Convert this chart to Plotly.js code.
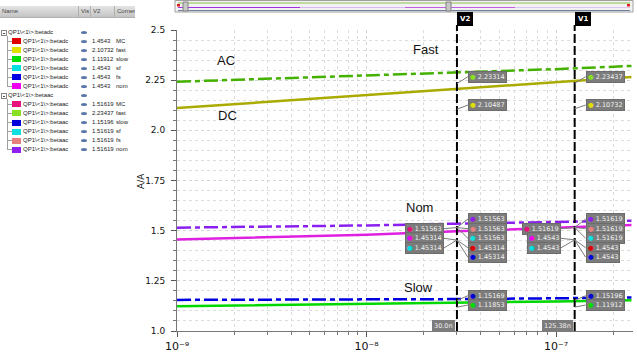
<!DOCTYPE html>
<html><head><meta charset="utf-8">
<script src="https://cdn.plot.ly/plotly-3.0.1.min.js"></script>
<style>
body{margin:0;width:637px;height:356px;overflow:hidden;background:#fff;font-family:"Liberation Sans",Arial,sans-serif;position:relative}
#chart{position:absolute;left:0;top:0;width:637px;height:356px}
#panel{position:absolute;left:0;top:0;width:135px;height:356px;background:#fff;z-index:5;color:#222;overflow:hidden}
#border{position:absolute;left:135px;top:17px;width:1px;height:339px;background:#a8a8a8}
#hdr{position:absolute;left:0;top:6px;width:136px;height:11px;background:linear-gradient(#e4e4e4,#c4c4c4);border-bottom:1px solid #b0b0b0}
#hdr span{position:absolute;top:0;line-height:11px;font-size:6px;color:#444;padding-left:2px;border-left:1px solid #b0b0b0;height:11px}
.row{position:absolute;height:9px;line-height:9px;font-size:6px;white-space:nowrap}
.sw{position:absolute;width:9px;height:6px;top:1.5px}
.eye{position:absolute;width:6px;height:3px;border-radius:50%;background:#5a78a8;top:3px}
.tv{position:absolute;background:#a0a0a0}
.gi{position:absolute;left:1px;top:2px;width:4px;height:4px;border:1px solid #888}
.gi:after{content:"";position:absolute;left:1px;top:2px;width:2px;height:1px;background:#555}
</style>
</head><body>
<div id="chart"></div>
<div id="panel"><div id="hdr"><span style="left:0;border-left:none">Name</span><span style="left:78px">Vis</span><span style="left:90px">V2</span><span style="left:114px">Corner</span></div><div id="border"></div></div>
<script>
// ---------------- data ----------------
const xs     = [1e-9, 3e-9, 1e-8, 3e-8, 1e-7, 2.5e-7];
const fastDC = [2.111, 2.142, 2.176, 2.208, 2.240, 2.266];
const fastAC = [2.242, 2.257, 2.272, 2.288, 2.305, 2.321];
const nomAC  = [1.515, 1.519, 1.526, 1.535, 1.544, 1.550];
const nomDC  = [1.456, 1.466, 1.480, 1.497, 1.515, 1.528];
const slowAC = [1.155, 1.156, 1.157, 1.159, 1.163, 1.167];
const slowDC = [1.123, 1.128, 1.134, 1.140, 1.147, 1.153];

const corners  = ['MC','fast','slow','sf','fs','nom'];
const dcName   = 'QP1\\<1\\>:betadc';
const acName   = 'QP1\\<1\\>:betaac';
const dcColors = ['#e00000','#e0e000','#00dd00','#00e0e0','#0000e0','#f000f0'];
const acColors = ['#e8107a','#88e020','#0000d8','#10e0e0','#e88080','#9020f0'];
const dcAtV2   = [1.45314, 2.10487, 1.11853, 1.45314, 1.45314, 1.45314];
const acAtV2   = [1.51563, 2.23314, 1.15169, 1.51563, 1.51563, 1.51563];
const dcAtV1   = [1.4543, 2.10732, 1.11912, 1.4543, 1.4543, 1.4543];
const acAtV1   = [1.51619, 2.23437, 1.15196, 1.51619, 1.51619, 1.51619];

const cursorX     = [3.0e-8, 1.2538e-7];
const cursorNames = ['V2','V1'];
const cursorText  = ['30.0n','125.38n'];

const yTicks     = [1.0, 1.25, 1.5, 1.75, 2.0, 2.25, 2.5];
const yTickText  = ['1.0','1.25','1.5','1.75','2.0','2.25','2.5'];
const xTicks     = [1e-9, 1e-8, 1e-7];
const xTickText  = ['10\u207B\u2079','10\u207B\u2078','10\u207B\u2077'];

// ---------------- left panel ----------------
const panel = document.getElementById('panel');
const esc = s => s.replace(/</g,'&lt;').replace(/>/g,'&gt;');
function addRow(i, html){ const d=document.createElement('div'); d.className='row'; d.style.top=(32+9.05*i-4.5)+'px'; d.style.left='0'; d.style.width='135px'; d.innerHTML=html; panel.appendChild(d); }
function groupRow(i,name){
  addRow(i,'<span class="gi"></span><span style="position:absolute;left:8px">'+esc(name)+'</span><span class="eye" style="left:81px"></span>');
}
function childRow(i,name,color,val,corner){
  addRow(i,'<span class="tv" style="left:7px;top:4px;width:5px;height:1px"></span>'+
    '<span class="sw" style="left:12px;background:'+color+'"></span>'+
    '<span style="position:absolute;left:23px">'+esc(name)+'</span>'+
    '<span class="eye" style="left:81px"></span>'+
    '<span style="position:absolute;left:92px">'+val+'</span>'+
    '<span style="position:absolute;left:116px">'+corner+'</span>');
}
groupRow(0,dcName);
corners.forEach((c,k)=>childRow(1+k,dcName,dcColors[k],dcAtV1[k],c));
groupRow(7,acName);
corners.forEach((c,k)=>childRow(8+k,acName,acColors[k],acAtV1[k],c));
[[0,6],[7,13]].forEach(([a,b])=>{const d=document.createElement('div');d.className='tv';d.style.left='7px';d.style.width='1px';d.style.top=(32+9.05*a+4)+'px';d.style.height=(9.05*(b-a)-4)+'px';panel.appendChild(d);});

// ---------------- chart ----------------
const DD = '14px,4px,5px,4px';
const traces = [
  {y:fastDC, color:'#aaaa00', dash:'solid'},
  {y:fastAC, color:'#44b000', dash:DD},
  {y:nomDC,  color:'#e020e0', dash:'solid'},
  {y:nomAC,  color:'#8a20f0', dash:DD},
  {y:slowDC, color:'#00d800', dash:'solid'},
  {y:slowAC, color:'#0000e0', dash:DD},
].map(t=>({x:xs, y:t.y, type:'scatter', mode:'lines', line:{color:t.color, width:2.5, dash:t.dash}, hoverinfo:'skip'}));

const PL=177, PR=633, PT=30, PB=331;
const px = x => (x-PL)/(PR-PL);
const py = y => (PB-y)/(PB-PT);
const valToPix = v => PT + (2.5 - v)*(PB-PT)/1.5;

const minorX = [];
[-9,-8,-7].forEach(e=>{for(let m=2;m<=9;m++){const v=m*Math.pow(10,e); if(v<2.6e-7) minorX.push(v);}});

const shapes = [];
const annotations = [];

// top scroll bar
shapes.push({type:'rect',xref:'paper',yref:'paper',x0:px(175),x1:px(633),y0:py(12),y1:py(0.5),line:{color:'#a0a0a0',width:1},fillcolor:'#f2f2f2',layer:'above'});
shapes.push({type:'line',xref:'paper',yref:'paper',x0:px(178),x1:px(630),y0:py(3),y1:py(3),line:{color:'#8cc04a',width:1.2}});
shapes.push({type:'line',xref:'paper',yref:'paper',x0:px(178),x1:px(300),y0:py(7.5),y1:py(7.5),line:{color:'#a030e0',width:1.2}});
shapes.push({type:'line',xref:'paper',yref:'paper',x0:px(300),x1:px(405),y0:py(7.5),y1:py(7.5),line:{color:'#d8b8f0',width:1.2}});
shapes.push({type:'line',xref:'paper',yref:'paper',x0:px(405),x1:px(515),y0:py(7.5),y1:py(7.5),line:{color:'#c060e0',width:1.2}});
shapes.push({type:'line',xref:'paper',yref:'paper',x0:px(515),x1:px(630),y0:py(7.5),y1:py(7.5),line:{color:'#d8c8f0',width:1.2}});
shapes.push({type:'line',xref:'paper',yref:'paper',x0:px(178),x1:px(630),y0:py(10.5),y1:py(10.5),line:{color:'#7080a0',width:1}});
shapes.push({type:'rect',xref:'paper',yref:'paper',x0:px(183),x1:px(188),y0:py(11),y1:py(2),line:{color:'#808080',width:1},fillcolor:'#c8c8c8'});
shapes.push({type:'rect',xref:'paper',yref:'paper',x0:px(446),x1:px(451),y0:py(11),y1:py(2),line:{color:'#808080',width:1},fillcolor:'#c8c8c8'});
shapes.push({type:'rect',xref:'paper',yref:'paper',x0:px(177),x1:px(180),y0:py(6.5),y1:py(4),line:{width:0},fillcolor:'#e02020'});
shapes.push({type:'rect',xref:'paper',yref:'paper',x0:px(627),x1:px(630),y0:py(6.5),y1:py(4),line:{width:0},fillcolor:'#e02020'});

// cursors
cursorX.forEach((cx,i)=>{
  shapes.push({type:'line',xref:'x',yref:'paper',x0:cx,x1:cx,y0:0,y1:py(25),line:{color:'#000',width:2,dash:'9px,3px'},layer:'above'});
  annotations.push({x:Math.log10(cx),xref:'x',yref:'paper',y:py(19),text:cursorNames[i],showarrow:false,xanchor:'left',yanchor:'middle',
    bgcolor:'#000',bordercolor:'#000',borderpad:2,font:{family:'DejaVu Sans',size:7,color:'#fff',weight:'bold'}});
  annotations.push({x:Math.log10(cx),xref:'x',yref:'paper',y:py(325.5),text:cursorText[i],showarrow:false,xanchor:'right',yanchor:'middle',xshift:-2,
    bgcolor:'#7c7c7c',bordercolor:'#7c7c7c',borderpad:1,font:{family:'DejaVu Sans',size:6.5,color:'#f0f0f0'}});
});

// marker boxes: [series set, index, side, box pixel y]
const boxLayout = [
  ['ac',1,'R',76.7],['dc',1,'R',105],
  ['ac',5,'R',219],['ac',4,'R',228.7],['ac',3,'R',238.3],['dc',0,'R',247.7],['dc',4,'R',257.3],
  ['ac',2,'R',295.7],['dc',2,'R',305],
  ['ac',0,'L',228.7],['dc',5,'L',238.3],['dc',3,'L',248]
];
cursorX.forEach((cx,ci)=>{
  const dc = ci===0?dcAtV2:dcAtV1, ac = ci===0?acAtV2:acAtV1;
  boxLayout.forEach(([set,k,side,by])=>{
    const v = set==='dc'?dc[k]:ac[k];
    const col = set==='dc'?dcColors[k]:acColors[k];
    annotations.push({x:Math.log10(cx),y:v,xref:'x',yref:'y',showarrow:true,arrowhead:0,arrowwidth:1,arrowcolor:'#7a7a7a',
      ax:side==='R'?11:(ci===0?-13:-14), ay:by-valToPix(v), xanchor:side==='R'?'left':'right', yanchor:'middle',
      text:'<span style="color:'+col+'">●</span> '+v, bgcolor:'#7c7c7c',bordercolor:'#6c6c6c',borderpad:1,
      font:{family:'DejaVu Sans',size:6.5,color:'#f2f2f2'}});
  });
});

// region labels
const lab = (lx,ly,t)=>annotations.push({x:Math.log10(lx),y:ly,xref:'x',yref:'y',text:t,showarrow:false,font:{family:'Liberation Sans',size:13,color:'#111'}});
lab(1.815e-9,2.35,'AC'); lab(1.857e-9,2.075,'DC'); lab(2.06e-8,2.405,'Fast'); lab(1.914e-8,1.615,'Nom'); lab(1.87e-8,1.215,'Slow');

// y-axis title placed like the reference (left of the tick labels)
annotations.push({xref:'paper',yref:'paper',x:px(141),y:py(181),text:'A/A',textangle:-90,showarrow:false,xanchor:'center',yanchor:'middle',
  font:{family:'DejaVu Sans',size:9,color:'#111'}});

const layout = {
  width:637, height:356, margin:{l:PL, r:637-PR, t:PT, b:356-PB},
  paper_bgcolor:'#fff', plot_bgcolor:'#fff', showlegend:false,
  xaxis:{type:'log', range:[-9,-6.594], tickvals:xTicks, ticktext:xTickText, ticks:'outside', ticklen:5, tickcolor:'#555',
    showgrid:true, gridcolor:'#d4d4d4', griddash:'dot', gridwidth:1, showline:true, linecolor:'#777', zeroline:false,
    tickfont:{family:'DejaVu Sans', size:11, color:'#111'},
    minor:{tickvals:minorX, ticks:'outside', ticklen:3, tickcolor:'#777', showgrid:true, gridcolor:'#dcdcdc', griddash:'dot'}},
  yaxis:{range:[1.0,2.5], tickvals:yTicks, ticktext:yTickText, ticks:'outside', ticklen:5, tickcolor:'#555', ticklabelstandoff:4,
    showgrid:true, gridcolor:'#d4d4d4', griddash:'dot', showline:true, linecolor:'#777', zeroline:false,
    tickfont:{family:'DejaVu Sans', size:9, color:'#111'},
    minor:{dtick:0.05, ticks:'outside', ticklen:3, tickcolor:'#777', showgrid:true, gridcolor:'#dcdcdc', griddash:'dot'}},
  shapes:shapes, annotations:annotations
};
Plotly.newPlot('chart', traces, layout, {displayModeBar:false, staticPlot:true});
</script>
</body></html>
